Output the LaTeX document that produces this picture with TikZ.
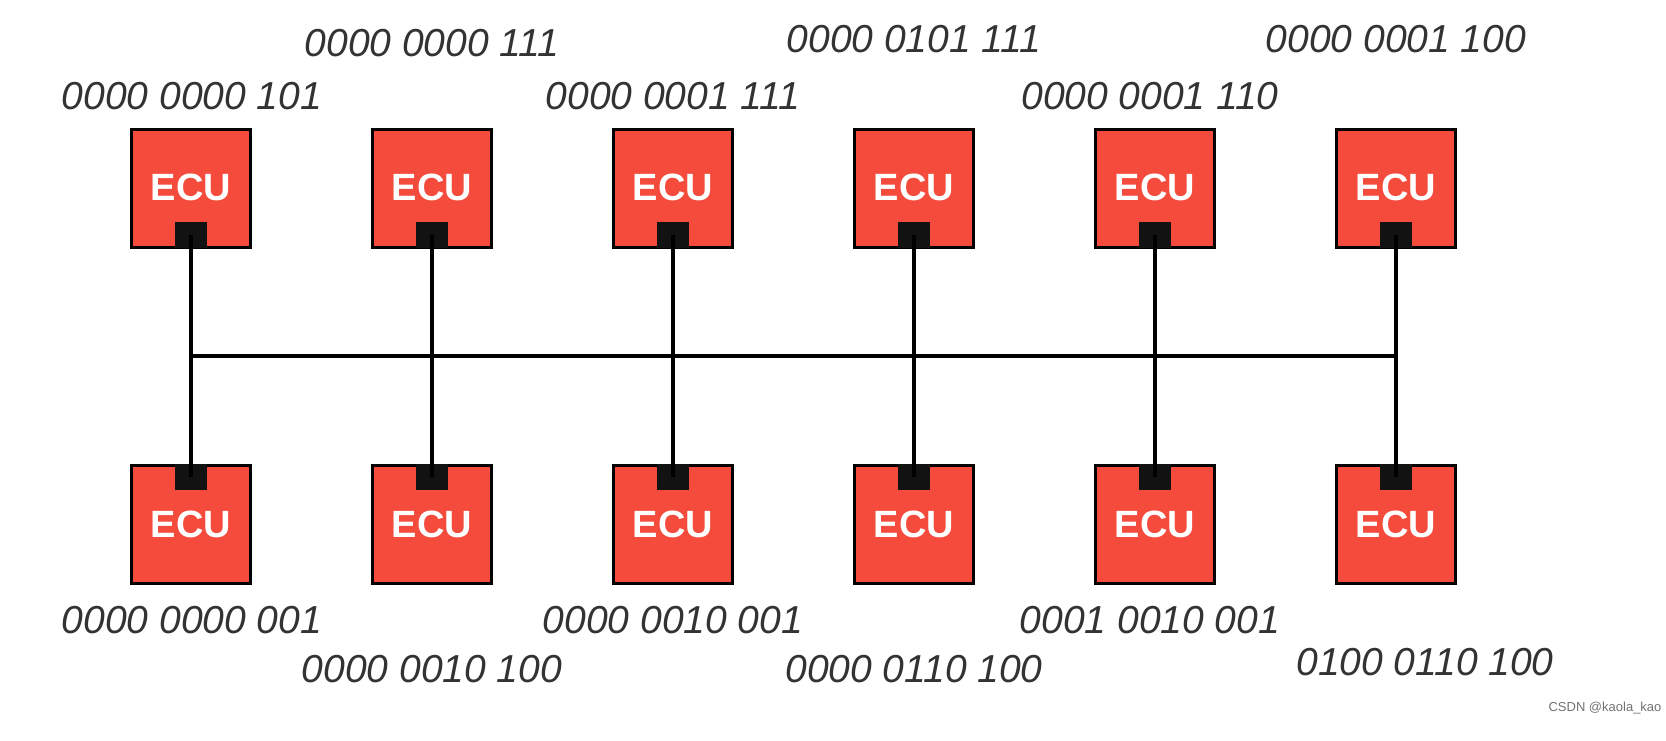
\documentclass[tikz,border=0pt]{standalone}
\usepackage{fontspec}
\setmainfont{Liberation Sans}
\begin{document}
\begin{tikzpicture}[x=1pt,y=-1pt,
  ecu/.style={draw=black,line width=3pt,fill=ecured,minimum width=119pt,minimum height=118pt,inner sep=0pt},
  port/.style={fill=black!93,minimum width=32pt,minimum height=26pt,inner sep=0pt},
  lbl/.style={font=\fontsize{39}{42}\selectfont\itshape,text=black!80},
  etxt/.style={text=white,font=\fontsize{38}{40}\selectfont\bfseries},
  wire/.style={line width=3.5pt,black}]
\definecolor{ecured}{HTML}{F44B3C}
\useasboundingbox (0,0) rectangle (1666,740);
\foreach \i/\x in {1/191,2/432,3/673,4/914,5/1155,6/1396}{
  \node[ecu] (t\i) at (\x,188) {};
  \node[etxt] (tt\i) at (\x,187) {ECU};
  \node[port,anchor=south] (tp\i) at (t\i.south) {};
  \node[ecu] (b\i) at (\x,524) {};
  \node[etxt] (bt\i) at (\x,524) {ECU};
  \node[port,anchor=north] (bp\i) at (b\i.north) {};
  \coordinate (j\i) at (\x,356);
  \draw[wire] (tp\i.center) -- (bp\i.center);
}
\draw[wire] (j1) -- (j6);
\node[lbl] (l1) at (192,96) {0000 0000 101};
\node[lbl] (l2) at (432,43) {0000 0000 111};
\node[lbl] (l3) at (673,96) {0000 0001 111};
\node[lbl] (l4) at (914,39) {0000 0101 111};
\node[lbl] (l5) at (1150,96) {0000 0001 110};
\node[lbl] (l6) at (1396,39) {0000 0001 100};
\node[lbl] (m1) at (192,620) {0000 0000 001};
\node[lbl] (m2) at (432,669) {0000 0010 100};
\node[lbl] (m3) at (673,620) {0000 0010 001};
\node[lbl] (m4) at (914,669) {0000 0110 100};
\node[lbl] (m5) at (1150,620) {0001 0010 001};
\node[lbl] (m6) at (1425,662) {0100 0110 100};
\node[font=\fontsize{13}{14}\selectfont,text=black!55] (wm) at (1605,708) {CSDN @kaola\_kao};
\end{tikzpicture}
\end{document}
